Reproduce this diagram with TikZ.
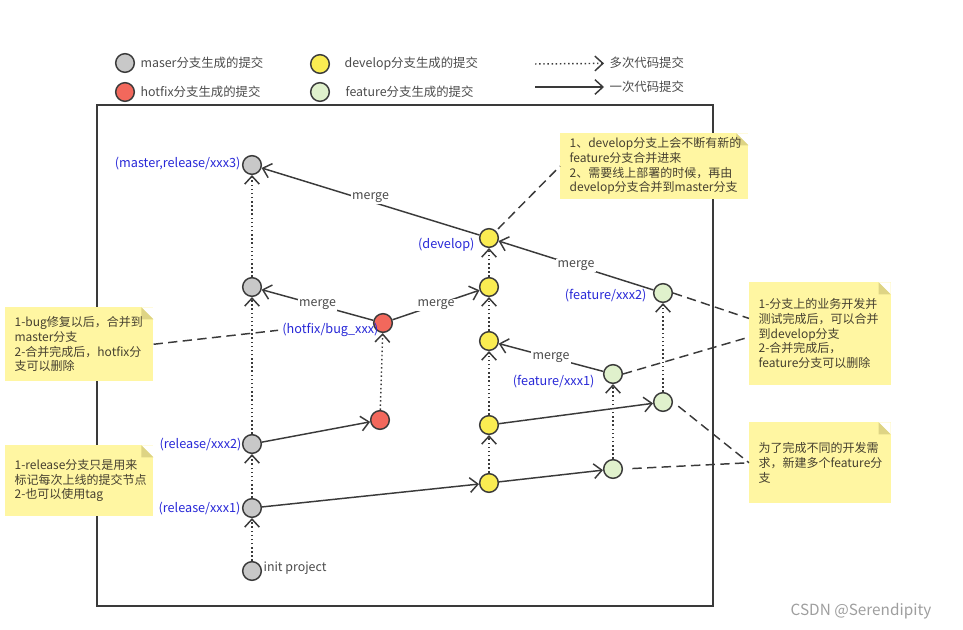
\documentclass[tikz,border=0pt]{standalone}
\usepackage{fontspec}
\setmainfont{Noto Sans CJK SC}
\usepackage{tikz}
\usetikzlibrary{shapes.geometric, arrows.meta}
\exhyphenpenalty=10000
\hfuzz=50pt
\definecolor{mastergray}{RGB}{200,200,200}
\definecolor{hotfixred}{RGB}{242,104,92}
\definecolor{developyellow}{RGB}{250,236,82}
\definecolor{featuregreen}{RGB}{224,241,204}
\definecolor{ringcolor}{RGB}{58,58,58}
\definecolor{tagblue}{RGB}{40,40,215}
\definecolor{labelgray}{RGB}{75,75,75}
\definecolor{notefill}{RGB}{255,246,162}
\definecolor{notefold}{RGB}{222,212,132}
\definecolor{notetext}{RGB}{70,64,48}
\tikzstyle{commit} = [circle, minimum size=14pt, inner sep=0pt, draw=ringcolor, line width=1.1pt]
\tikzstyle{master} = [commit, fill=mastergray]
\tikzstyle{hotfix} = [commit, fill=hotfixred]
\tikzstyle{develop} = [commit, fill=developyellow]
\tikzstyle{feature} = [commit, fill=featuregreen]
\tikzstyle{tag} = [text=tagblue, font=\fontsize{9.5}{10}\selectfont, inner sep=1pt]
\tikzstyle{legend} = [anchor=west, text=labelgray, font=\fontsize{9.3}{10}\selectfont, inner sep=1pt]
\tikzstyle{merge} = [fill=white, text=labelgray, font=\fontsize{9.3}{10}\selectfont, inner sep=1pt]
\tikzstyle{note} = [rectangle, anchor=north west, fill=notefill, align=left, inner xsep=7pt, text=notetext, font=\fontsize{9}{11}\selectfont,
  path picture={
    \fill[white] ([xshift=-9pt]path picture bounding box.north east) -- (path picture bounding box.north east) -- ([yshift=-9pt]path picture bounding box.north east) -- cycle;
    \fill[notefold] ([xshift=-9pt]path picture bounding box.north east) -- ([yshift=-9pt]path picture bounding box.north east) -- ([xshift=-9pt,yshift=-9pt]path picture bounding box.north east) -- cycle;}]
\tikzstyle{arrow} = [line width=1.1pt, draw=ringcolor, -{Straight Barb[length=6pt,width=11pt]}]
\tikzstyle{many} = [arrow, dotted]
\tikzstyle{link} = [line width=1.1pt, draw=ringcolor, dash pattern=on 7pt off 4pt]

\begin{document}
\begin{tikzpicture}[x=0.75pt, y=-0.75pt]
\useasboundingbox (0,0) rectangle (963,630);

% legend
\node (lgmaster) [master] at (125,63) {};
\node (lgmastertext) [legend] at (139,63) {maser分支生成的提交};
\node (lghotfix) [hotfix] at (125,92) {};
\node (lghotfixtext) [legend] at (139,92) {hotfix分支生成的提交};
\node (lgdevelop) [develop] at (320,64) {};
\node (lgdeveloptext) [legend] at (343,64) {develop分支生成的提交};
\node (lgfeature) [feature] at (320,92) {};
\node (lgfeaturetext) [legend] at (344,92) {feature分支生成的提交};
\coordinate (lgdot) at (535,64);
\node (lgmany) [legend, inner xsep=4pt] at (604,63) {多次代码提交};
\coordinate (lgline) at (535,87);
\node (lgone) [legend, inner xsep=4pt] at (604,87) {一次代码提交};
\draw [many] (lgdot) -- (lgmany);
\draw [arrow] (lgline) -- (lgone);

\draw [line width=1.1pt, draw=ringcolor] (97,105) rectangle (713,606);

% master / release
\node (init) [master] at (252,571) {};
\node (rel1) [master] at (252,508) {};
\node (rel2) [master] at (252,444) {};
\node (mst2) [master] at (252,287) {};
\node (mst3) [master] at (252,165) {};
% hotfix
\node (hfx1) [hotfix] at (380,420) {};
\node (hfx2) [hotfix] at (383,323) {};
% develop
\node (dev1) [develop] at (489,483) {};
\node (dev2) [develop] at (489,425) {};
\node (dev3) [develop] at (489,341) {};
\node (dev4) [develop] at (489,287) {};
\node (dev5) [develop] at (489,238) {};
% feature
\node (fea1a) [feature] at (613,469) {};
\node (fea1b) [feature] at (613,374) {};
\node (fea2a) [feature] at (663,402) {};
\node (fea2b) [feature] at (663,293) {};

% tags
\node (mtag3) [tag, anchor=east] at (242,164) {(master,release/xxx3)};
\node (rtag2) [tag, anchor=east] at (243,445) {(release/xxx2)};
\node (rtag1) [tag, anchor=east] at (242,509) {(release/xxx1)};
\node (inittext) [legend] at (262,568) {init project};
\node (htag) [tag, anchor=east] at (380,330) {(hotfix/bug\_xxx)};
\node (dtag) [tag, anchor=east] at (476,245) {(develop)};
\node (f1tag) [tag, anchor=east] at (596,382) {(feature/xxx1)};
\node (f2tag) [tag, anchor=east] at (648,296) {(feature/xxx2)};

% notes
\node (dnote) [note, text width=127pt, minimum height=48.75pt] at (560,133) {1、develop分支上会不断有新的\\feature分支合并进来\\2、需要线上部署的时候，再由\\develop分支合并到master分支};
\node (hnote) [note, text width=97pt, minimum height=55.5pt] at (5,307) {1-bug修复以后，合并到\\master分支\\2-合并完成后，hotfix分\\支可以删除};
\node (rnote) [note, text width=97pt, minimum height=53.25pt] at (5,445) {1-release分支只是用来\\标记每次上线的提交节点\\2-也可以使用tag};
\node (fnote) [note, text width=92pt, minimum height=77.25pt] at (749,282) {1-分支上的业务开发并\\测试完成后，可以合并\\到develop分支\\2-合并完成后，\\feature分支可以删除};
\node (nnote) [note, text width=92pt, minimum height=60.75pt] at (749,422) {为了完成不同的开发需\\求，新建多个feature分\\支};

\draw [many] (init) -- (rel1);
\draw [many] (rel1) -- (rel2);
\draw [many] (rel2) -- (mst2);
\draw [many] (mst2) -- (mst3);
\draw [arrow] (rel2) -- (hfx1);
\draw [many] (hfx1) -- (hfx2);
\draw [arrow] (hfx2) -- node [merge] {merge} (mst2);
\draw [arrow] (hfx2) -- node [merge] {merge} (dev4);
\draw [arrow] (rel1) -- (dev1);
\draw [many] (dev1) -- (dev2);
\draw [many] (dev2) -- (dev3);
\draw [many] (dev3) -- (dev4);
\draw [many] (dev4) -- (dev5);
\draw [arrow] (dev1) -- (fea1a);
\draw [many] (fea1a) -- (fea1b);
\draw [arrow] (fea1b) -- node [merge] {merge} (dev3);
\draw [arrow] (dev2) -- (fea2a);
\draw [many] (fea2a) -- (fea2b);
\draw [arrow] (fea2b) -- node [merge] {merge} (dev5);
\draw [arrow] (dev5) -- node [merge, yshift=3pt] {merge} (mst3);

\draw [link, shorten <=2pt] (dev5.north east) -- (dnote.west);
\draw [link, shorten >=2pt] (hnote.east) -- (htag.west);
\draw [link] (fea2b.east) -- ([yshift=11.5pt]fnote.west);
\draw [link] (fea1b.east) -- ([yshift=-2.5pt]fnote.west);
\draw [link, shorten <=5pt] (fea2a.east) -- (nnote.west);
\draw [link, shorten <=7pt] (fea1a.east) -- (nnote.west);

\node (csdn) [anchor=west, text=black!38, font=\fontsize{11.5}{12}\selectfont] at (786,611) {CSDN @Serendipity};
\end{tikzpicture}
\end{document}
